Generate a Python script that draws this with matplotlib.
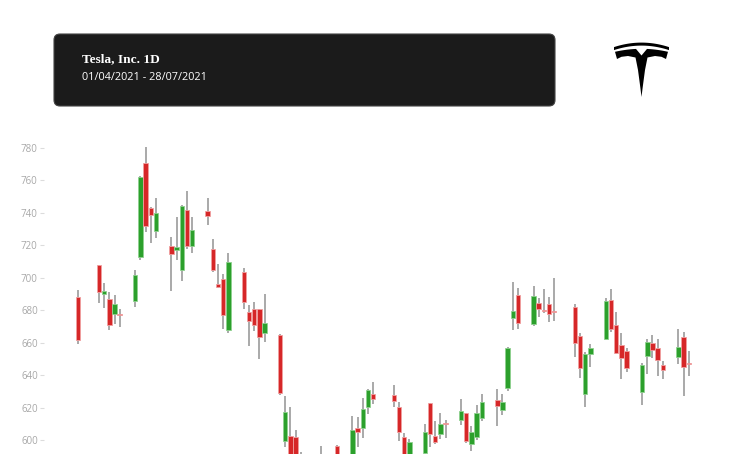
import matplotlib
matplotlib.use('Agg')
import matplotlib.pyplot as plt
import matplotlib.dates as mdates
import numpy as np
import pandas as pd
from matplotlib.patches import FancyBboxPatch, Polygon

# ---------------- data (TSLA daily, 01/04/2021 - 28/07/2021) ----------------
dates = ["2021-04-01", "2021-04-05", "2021-04-06", "2021-04-07", "2021-04-08", "2021-04-09",
         "2021-04-12", "2021-04-13", "2021-04-14", "2021-04-15", "2021-04-16",
         "2021-04-19", "2021-04-20", "2021-04-21", "2021-04-22", "2021-04-23",
         "2021-04-26", "2021-04-27", "2021-04-28", "2021-04-29", "2021-04-30",
         "2021-05-03", "2021-05-04", "2021-05-05", "2021-05-06", "2021-05-07",
         "2021-05-10", "2021-05-11", "2021-05-12", "2021-05-13", "2021-05-14",
         "2021-05-17", "2021-05-18", "2021-05-19", "2021-05-20", "2021-05-21",
         "2021-05-24", "2021-05-25", "2021-05-26", "2021-05-27", "2021-05-28",
         "2021-06-01", "2021-06-02", "2021-06-03", "2021-06-04",
         "2021-06-07", "2021-06-08", "2021-06-09", "2021-06-10", "2021-06-11",
         "2021-06-14", "2021-06-15", "2021-06-16", "2021-06-17", "2021-06-18",
         "2021-06-21", "2021-06-22", "2021-06-23", "2021-06-24", "2021-06-25",
         "2021-06-28", "2021-06-29", "2021-06-30", "2021-07-01", "2021-07-02",
         "2021-07-06", "2021-07-07", "2021-07-08", "2021-07-09",
         "2021-07-12", "2021-07-13", "2021-07-14", "2021-07-15", "2021-07-16",
         "2021-07-19", "2021-07-20", "2021-07-21", "2021-07-22", "2021-07-23",
         "2021-07-26", "2021-07-27", "2021-07-28"]

opens = [688.37, 707.71, 690.30, 687.00, 677.38, 677.77,
         685.70, 712.70, 770.70, 743.10, 728.65,
         719.60, 717.42, 704.77, 741.50, 719.80,
         741.00, 717.96, 696.41, 699.51, 667.59,
         703.80, 678.94, 681.06, 680.76, 665.80,
         664.90, 599.24, 602.49, 601.54, 583.41,
         575.55, 568.00, 552.55, 575.00, 596.11,
         581.60, 607.31, 607.56, 620.24, 628.50,
         627.80, 620.13, 601.80, 579.71,
         591.83, 623.01, 602.17, 603.88, 610.23,
         612.23, 616.69, 597.54, 601.89, 613.37,
         624.48, 618.25, 632.00, 674.99, 689.58,
         671.64, 684.65, 679.77, 683.92, 678.98,
         681.71, 664.27, 628.37, 653.18,
         662.20, 686.32, 670.75, 658.39, 654.68,
         629.29, 651.99, 659.61, 656.44, 646.36,
         650.97, 663.40, 647.00]

highs = [692.42, 708.16, 696.55, 691.38, 689.55, 680.97,
         704.80, 763.00, 780.79, 743.69, 749.41,
         725.40, 737.25, 744.84, 753.77, 737.36,
         749.30, 724.00, 708.50, 702.25, 715.47,
         706.00, 683.45, 685.30, 681.02, 690.00,
         665.05, 627.10, 620.41, 606.46, 592.87,
         589.73, 596.25, 566.21, 588.85, 596.68,
         614.48, 613.99, 626.17, 631.13, 635.59,
         633.80, 623.36, 604.55, 600.61,
         610.00, 623.09, 611.79, 616.59, 612.56,
         625.49, 616.79, 608.50, 621.47, 628.35,
         631.39, 628.57, 657.20, 697.62, 693.81,
         694.70, 687.51, 692.81, 687.99, 700.00,
         684.00, 665.70, 654.43, 658.91,
         687.24, 693.28, 678.61, 666.14, 656.70,
         647.20, 662.39, 664.86, 662.17, 648.80,
         668.20, 666.50, 654.97]

lows = [659.42, 684.70, 681.37, 667.84, 671.65, 669.43,
        682.09, 710.66, 728.03, 721.31, 724.60,
        691.80, 710.69, 698.00, 718.04, 715.46,
        732.61, 703.35, 693.60, 668.50, 666.14,
        680.50, 657.70, 667.34, 650.00, 660.22,
        627.61, 595.60, 586.77, 559.65, 570.46,
        561.20, 563.38, 546.98, 571.07, 580.00,
        573.65, 595.71, 601.50, 616.21, 622.38,
        620.55, 599.14, 571.22, 577.20,
        582.88, 595.50, 597.63, 600.50, 601.52,
        609.18, 598.23, 593.50, 600.00, 611.80,
        608.88, 615.50, 630.04, 667.61, 668.70,
        670.32, 675.89, 678.14, 672.80, 673.26,
        651.40, 638.32, 620.46, 644.69,
        662.16, 666.30, 652.84, 637.88, 642.20,
        621.29, 640.50, 650.29, 639.35, 637.30,
        647.11, 627.24, 639.40]

closes = [661.75, 691.05, 691.62, 670.97, 683.80, 677.02,
          701.98, 762.32, 732.23, 738.85, 739.78,
          714.63, 718.99, 744.12, 719.69, 729.40,
          738.20, 704.74, 694.40, 677.00, 709.44,
          684.90, 673.60, 670.94, 663.54, 672.37,
          629.04, 617.20, 589.89, 571.69, 589.74,
          576.83, 577.87, 563.46, 586.78, 580.88,
          606.44, 604.69, 619.13, 630.85, 625.22,
          623.90, 605.12, 572.84, 599.05,
          605.13, 603.59, 598.78, 610.12, 609.89,
          617.69, 599.36, 604.87, 616.60, 623.31,
          620.83, 623.71, 656.57, 679.82, 671.87,
          688.72, 680.76, 679.70, 677.92, 678.90,
          659.58, 644.65, 652.81, 656.95,
          685.70, 668.54, 653.38, 650.60, 644.22,
          646.22, 660.50, 655.29, 649.26, 643.38,
          657.62, 644.78, 646.98]

yticks = [600, 620, 640, 660, 680, 700, 720, 740, 760, 780]
title_text = "Tesla, Inc. 1D"
range_text = "01/04/2021 - 28/07/2021"

# ---------------- figure ----------------
W, H = 736, 454
fig = plt.figure(figsize=(W / 100, H / 100), dpi=100)
fig.patch.set_facecolor('white')


def px(x0, y0, x1, y1):
    return [x0 / W, 1 - y1 / H, (x1 - x0) / W, (y1 - y0) / H]


ax = fig.add_axes(px(44, 131.8, 720, 537.3))
x = mdates.date2num(pd.to_datetime(dates).to_pydatetime())
o = np.array(opens); h = np.array(highs); l = np.array(lows); c = np.array(closes)
up = c > o
body_col = np.where(up, '#2ca02c', '#d62728')
edge_col = np.where(up, '#8fd18f', '#f0a0a0')

ax.vlines(x, l, h, color='#a3a3a3', lw=1.3, zorder=2)
ax.bar(x, np.maximum(np.abs(c - o), 0.7), bottom=np.minimum(o, c), width=0.85,
       color=body_col, edgecolor=edge_col, linewidth=0.6, zorder=3)

ax.set_xlim(x[0] - 6.63, x[-1] + 6.05)
ax.set_ylim(540, 790)
ax.set_yticks(yticks)
ax.set_yticklabels([str(t) for t in yticks], fontfamily='Open Sans')
ax.tick_params(axis='y', labelsize=7, labelcolor='#a8a8a8', color='#dcdcdc',
               length=3, width=0.8, pad=1.5)
ax.set_xticks([])
for s in ax.spines.values():
    s.set_visible(False)
ax.set_facecolor('none')

# ---------------- overlay: header box and logo ----------------
ov = fig.add_axes([0, 0, 1, 1])
ov.set_xlim(0, W)
ov.set_ylim(H, 0)
ov.axis('off')
ov.patch.set_alpha(0)

ov.add_patch(FancyBboxPatch((54, 34), 501, 72, boxstyle="round,pad=0,rounding_size=6",
                            fc='#1b1b1b', ec='#444444', lw=0.8))
ov.text(82, 59, title_text, family='Liberation Serif', weight='bold', size=9.6,
        color='white', va='center', ha='left')
ov.text(82, 78, range_text, family='Open Sans', size=7.8, color='white',
        va='center', ha='left')

# Tesla "T" logo (decorative)
cx = 641.5
xs = np.linspace(614, 669, 40)
k = 4.5 / 27.5 ** 2
top = 42.6 + k * (xs - cx) ** 2
bot = top + 3.0
arc = np.concatenate([np.column_stack([xs, top]), np.column_stack([xs[::-1], bot[::-1]])])
ov.add_patch(Polygon(arc, closed=True, fc='black', ec='none'))

k2 = 3.0 / 26.5 ** 2
lx = np.linspace(615, 636.0, 15)
rx = np.linspace(647.0, 668, 15)
ltop = 48.8 + k2 * (lx - cx) ** 2
rtop = 48.8 + k2 * (rx - cx) ** 2
pts = [(cx, 55.5)] + list(zip(lx[::-1], ltop[::-1])) + \
      [(617.0, 59.0), (621.5, 56.8), (628, 56.0), (635.5, 57.5),
       (638.0, 70), (640.4, 88), (cx, 97), (642.6, 88), (645.0, 70),
       (647.5, 57.5), (655, 56.0), (661.5, 56.8), (666.0, 59.0)] + \
      list(zip(rx[::-1], rtop[::-1]))
ov.add_patch(Polygon(np.array(pts), closed=True, fc='black', ec='none'))

fig.savefig('out.png', dpi=100, facecolor='white')
